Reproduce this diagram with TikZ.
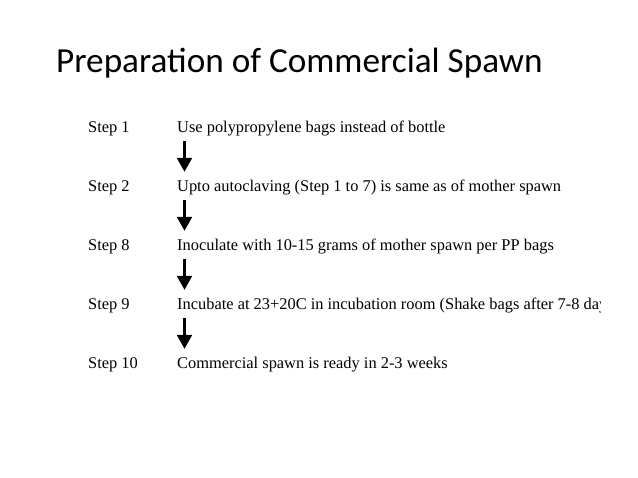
\documentclass[tikz,border=0pt]{standalone}
\usepackage{fontspec}
\setmainfont{Liberation Serif}
\newfontfamily\titlefont{Carlito}
\usetikzlibrary{arrows.meta}
\begin{document}
\begin{tikzpicture}[x=1pt,y=1pt,
  steplbl/.style={anchor=base west,inner sep=0pt,font=\fontsize{16.4}{18}\selectfont},
  desc/.style={anchor=base west,inner sep=0pt,text height=11pt,text depth=4pt,font=\fontsize{16.4}{18}\selectfont},
  arr/.style={line width=2.4pt,-{Triangle[length=14pt,width=15pt]}}]
\useasboundingbox[fill=white] (0,0) rectangle (638,-478);
\node[anchor=base west,inner sep=0pt,font=\titlefont\fontsize{35.2}{40}\selectfont] (title) at (56,-73) {Preparation of Commercial Spawn};
\node[steplbl] (s1) at (88,-133) {Step 1};
\node[steplbl] (s2) at (88,-192) {Step 2};
\node[steplbl] (s8) at (88,-251) {Step 8};
\node[steplbl] (s9) at (88,-310) {Step 9};
\node[steplbl] (s10) at (88,-369) {Step 10};
\node[desc] (t1) at (177,-133) {Use polypropylene bags instead of bottle};
\node[desc] (t2) at (177,-192) {Upto autoclaving (Step 1 to 7) is same as of mother spawn};
\node[desc] (t8) at (177,-251) {Inoculate with 10-15 grams of mother spawn per PP bags};
\begin{scope}
\clip (0,0) rectangle (600,-478);
\node[desc] (t9) at (177,-310) {Incubate at 23+20C in incubation room (Shake bags after 7-8 days)};
\end{scope}
\node[desc] (t10) at (177,-369) {Commercial spawn is ready in 2-3 weeks};
\foreach \a/\b in {t1/t2,t2/t8,t8/t9,t9/t10}{
  \draw[arr] ([xshift=7.5pt,yshift=-4pt]\a.south west) -- ([xshift=7.5pt,yshift=9pt]\b.north west);
}
\end{tikzpicture}
\end{document}
